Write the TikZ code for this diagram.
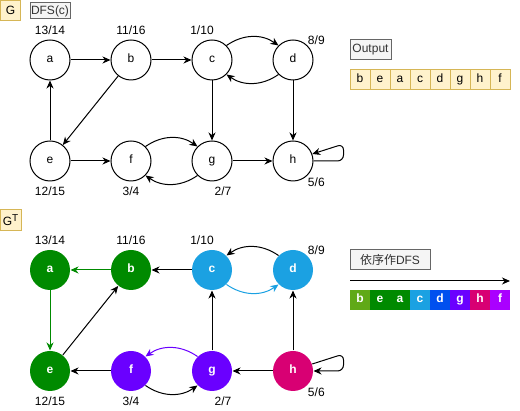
\documentclass[tikz,border=0pt]{standalone}
\usepackage{fontspec}
\setmainfont{Liberation Sans}
\newfontfamily\cjkfont{Noto Sans CJK SC}
\usepackage{xcolor}
\usepackage{tikz}
\usetikzlibrary{positioning}
\usetikzlibrary{arrows.meta}
\definecolor{tagfill}{HTML}{FFF2CC}
\definecolor{tagline}{HTML}{D6B656}
\definecolor{boxfill}{HTML}{F5F5F5}
\definecolor{boxline}{HTML}{666666}
\definecolor{boxtext}{HTML}{333333}
\definecolor{dgreen}{HTML}{008A00}
\definecolor{lgreen}{HTML}{60A917}
\definecolor{lblue}{HTML}{1BA1E2}
\definecolor{cobalt}{HTML}{0050EF}
\definecolor{vpurple}{HTML}{6A00FF}
\definecolor{vviolet}{HTML}{AA00FF}
\definecolor{vpink}{HTML}{D80073}

\begin{document}
\begin{tikzpicture}[
x=1pt, y=1pt, line width=1pt,
font=\fontsize{12}{14}\selectfont,
>={Stealth[length=8pt, width=7pt, inset=2.5pt]},
vertexnode/.style={circle, draw, fill=white, minimum size=40pt, inner sep=0pt, text height=8.5pt, text depth=2.5pt},
donenode/.style={circle, minimum size=40pt, inner sep=0pt, text height=8.5pt, text depth=2.5pt, text=white, font=\fontsize{12}{14}\selectfont\bfseries},
greennode/.style={donenode, fill=dgreen},
bluenode/.style={donenode, fill=lblue},
purplenode/.style={donenode, fill=vpurple},
pinknode/.style={donenode, fill=vpink},
numnode/.style={inner sep=0pt},
tagnode/.style={rectangle, draw=tagline, fill=tagfill, inner sep=1pt},
titlenode/.style={rectangle, draw=boxline, fill=boxfill, text=boxtext, inner sep=1pt},
cellnode/.style={rectangle, draw=tagline, fill=tagfill, minimum size=20pt, inner sep=0pt, outer sep=0pt, text height=8.5pt, text depth=2.5pt},
colornode/.style={rectangle, minimum size=20pt, inner sep=0pt, outer sep=0pt, text height=8.5pt, text depth=2.5pt, text=white, font=\fontsize{12}{14}\selectfont\bfseries},
]
\useasboundingbox (0,0) rectangle (520,411);

%Titles
\node[tagnode, minimum size=20pt]						(gtag)		at (10.5,400.5)		{G};
\node[titlenode, minimum width=40pt, minimum height=16pt]	(dfstitle)	at (50,400)			{DFS(c)};
\node[titlenode, minimum width=41pt, minimum height=20pt]	(outtitle)	at (370.5,361)		{Output};
\node[tagnode, minimum size=21pt]						(gttag)		at (10.5,190.5)		{G\raisebox{4pt}{\fontsize{10}{10}\selectfont T}};
\node[titlenode, minimum width=80pt, minimum height=20pt]	(ordtitle)	at (390,151)		{{\cjkfont 依序作}DFS};

%Nodes G
\node[vertexnode]		(a)		at (50,351)				{a};
\node[vertexnode]		(b)		[right=40pt of a]		{b};
\node[vertexnode]		(c)		[right=40pt of b]		{c};
\node[vertexnode]		(d)		[right=40pt of c]		{d};
\node[vertexnode]		(e)		[below=60pt of a]		{e};
\node[vertexnode]		(f)		[right=40pt of e]		{f};
\node[vertexnode]		(g)		[right=40pt of f]		{g};
\node[vertexnode]		(h)		[right=40pt of g]		{h};

%Times G
\node[numnode]			(atime)	[above=4pt of a]					{13/14};
\node[numnode]			(btime)	[above=4pt of b]					{11/16};
\node[numnode]			(ctime)	[above=4pt of c, xshift=-10pt]		{1/10};
\node[numnode]			(dtime)	[above right=0pt and 0pt of d]		{8/9};
\node[numnode]			(etime)	[below=5pt of e]					{12/15};
\node[numnode]			(ftime)	[below=5pt of f]					{3/4};
\node[numnode]			(gtime)	[below=5pt of g, xshift=11pt]		{2/7};
\node[numnode]			(htime)	[below right=2pt and 0pt of h]		{5/6};

%Output
\node[cellnode]			(o1)	at (360,331)			{b};
\node[cellnode]			(o2)	[right=0pt of o1]		{e};
\node[cellnode]			(o3)	[right=0pt of o2]		{a};
\node[cellnode]			(o4)	[right=0pt of o3]		{c};
\node[cellnode]			(o5)	[right=0pt of o4]		{d};
\node[cellnode]			(o6)	[right=0pt of o5]		{g};
\node[cellnode]			(o7)	[right=0pt of o6]		{h};
\node[cellnode]			(o8)	[right=0pt of o7]		{f};

%Lines G
\draw[->] (a) -- (b);
\draw[->] (b) -- (c);
\draw[->] (c.45) to[bend left=35] (d.135);
\draw[->] (d.225) to[bend left=35] (c.-45);
\draw[->] (c) -- (g);
\draw[->] (d) -- (h);
\draw[->] (b) -- (e);
\draw[->] (e) -- (a);
\draw[->] (e) -- (f);
\draw[->] (f.45) to[bend left=35] (g.135);
\draw[->] (g.225) to[bend left=35] (f.-45);
\draw[->] (g) -- (h);
\draw[->, rounded corners=6pt] (h.east) -- ([xshift=30pt]h.east) -- ([xshift=30pt, yshift=17pt]h.east) -- (h.20);

%Nodes GT
\node[greennode]		(ta)	at (50,141)				{a};
\node[greennode]		(tb)	[right=40pt of ta]		{b};
\node[bluenode]			(tc)	[right=40pt of tb]		{c};
\node[bluenode]			(td)	[right=40pt of tc]		{d};
\node[greennode]		(te)	[below=60pt of ta]		{e};
\node[purplenode]		(tf)	[right=40pt of te]		{f};
\node[purplenode]		(tg)	[right=40pt of tf]		{g};
\node[pinknode]			(th)	[right=40pt of tg]		{h};

%Times GT
\node[numnode]			(tatime)	[above=4pt of ta]					{13/14};
\node[numnode]			(tbtime)	[above=4pt of tb]					{11/16};
\node[numnode]			(tctime)	[above=4pt of tc, xshift=-10pt]		{1/10};
\node[numnode]			(tdtime)	[above right=0pt and 0pt of td]		{8/9};
\node[numnode]			(tetime)	[below=5pt of te]					{12/15};
\node[numnode]			(tftime)	[below=5pt of tf]					{3/4};
\node[numnode]			(tgtime)	[below=5pt of tg, xshift=11pt]		{2/7};
\node[numnode]			(thtime)	[below right=2pt and 0pt of th]		{5/6};

%Order
\node[colornode, fill=lgreen]	(p1)	at (360,111)			{b};
\node[colornode, fill=dgreen]	(p2)	[right=0pt of p1]		{e};
\node[colornode, fill=dgreen]	(p3)	[right=0pt of p2]		{a};
\node[colornode, fill=lblue]	(p4)	[right=0pt of p3]		{c};
\node[colornode, fill=cobalt]	(p5)	[right=0pt of p4]		{d};
\node[colornode, fill=vpurple]	(p6)	[right=0pt of p5]		{g};
\node[colornode, fill=vpink]	(p7)	[right=0pt of p6]		{h};
\node[colornode, fill=vviolet]	(p8)	[right=0pt of p7]		{f};
\draw[->] ([yshift=9pt]p1.north west) -- ([yshift=9pt]p8.north east);

%Lines GT
\draw[dgreen, ->] (tb) -- (ta);
\draw[dgreen, ->] (ta) -- (te);
\draw[->] (te) -- (tb);
\draw[->] (tc) -- (tb);
\draw[lblue, ->] (tc.-45) to[bend right=35] (td.225);
\draw[->] (td.135) to[bend right=35] (tc.45);
\draw[->] (tg) -- (tc);
\draw[->] (th) -- (td);
\draw[->] (th) -- (tg);
\draw[->] (tf) -- (te);
\draw[vpurple, ->] (tg.135) to[bend right=35] (tf.45);
\draw[->] (tf.-45) to[bend right=35] (tg.225);
\draw[->, rounded corners=6pt] (th.20) -- ([xshift=30pt, yshift=17pt]th.east) -- ([xshift=30pt]th.east) -- (th.east);
\end{tikzpicture}
\end{document}
